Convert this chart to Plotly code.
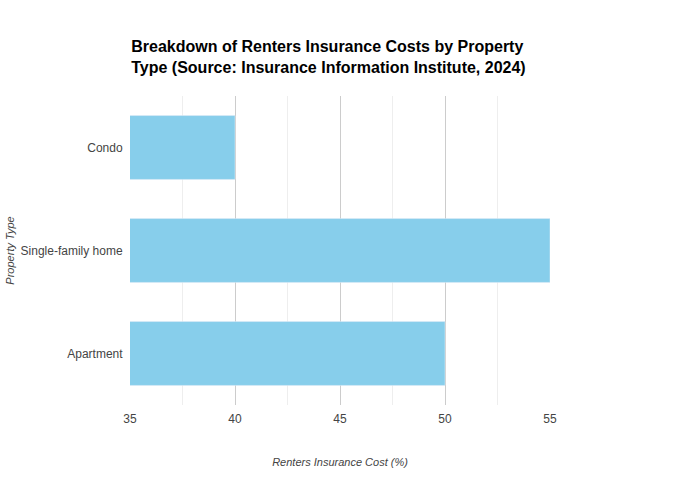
import plotly.graph_objects as go

categories = ["Apartment", "Single-family home", "Condo"]
costs = [50, 55, 40]

fig = go.Figure(go.Bar(
    x=costs, y=categories, orientation="h",
    marker=dict(color="#87CEEB"),
))

fig.update_layout(
    width=680, height=500,
    margin=dict(l=130, r=130, t=96, b=95, autoexpand=False),
    paper_bgcolor="white", plot_bgcolor="white",
    font=dict(family="Liberation Sans, Arial, sans-serif", color="#444"),
    title=dict(
        text="<b>Breakdown of Renters Insurance Costs by Property<br>Type (Source: Insurance Information Institute, 2024)</b>",
        x=0.193, xanchor="left", y=0.896, yanchor="top",
        font=dict(size=16, color="black"),
    ),
    bargap=0.38,
    showlegend=False,
)
fig.update_xaxes(
    range=[35, 55], dtick=5, tick0=35,
    showgrid=True, gridcolor="#cccccc", gridwidth=1,
    minor=dict(dtick=2.5, showgrid=True, gridcolor="#eeeeee"),
    zeroline=False, showline=False, automargin=True,
    ticks="outside", ticklen=3, tickcolor="rgba(0,0,0,0)",
    tickfont=dict(size=12, color="#444"),
    title=dict(text="<i>Renters Insurance Cost (%)</i>", font=dict(size=11, color="#444"), standoff=32),
)
fig.update_yaxes(
    showgrid=False, zeroline=False, showline=False, automargin=True,
    ticks="outside", ticklen=4, tickcolor="rgba(0,0,0,0)",
    tickfont=dict(size=12, color="#444"),
    title=dict(text="<i>Property Type</i>", font=dict(size=11, color="#444"), standoff=3),
)

fig.write_html("out.html", config={"displayModeBar": False},
               post_script="document.body.style.margin='0';")
